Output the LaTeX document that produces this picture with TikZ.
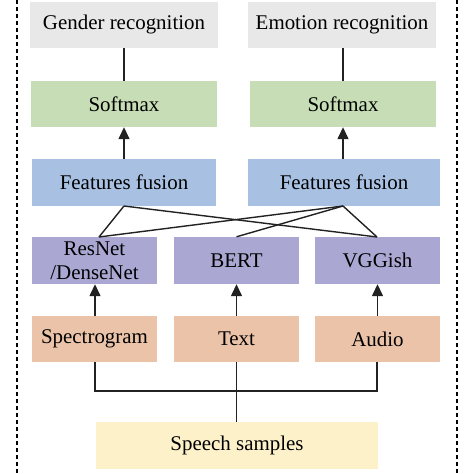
\documentclass[tikz,border=0pt]{standalone}
\usepackage{fontspec}
\setmainfont{Liberation Serif}
\usetikzlibrary{arrows.meta}
\definecolor{cgray}{HTML}{E8E8E8}
\definecolor{cgreen}{HTML}{C6DDB5}
\definecolor{cblue}{HTML}{A8C1E2}
\definecolor{cpurple}{HTML}{AAA8D2}
\definecolor{cpeach}{HTML}{EBC3A9}
\definecolor{cyellow}{HTML}{FCF1C9}
\definecolor{cline}{HTML}{222222}
\tikzset{
  boxst/.style={draw=none, inner sep=0pt, align=center, font=\fontsize{21}{22}\selectfont, text=black},
  conn/.style={draw=cline, line width=1.4bp},
  arr/.style={conn, -{Triangle[width=11bp,length=12bp]}},
  border/.style={draw=black, line width=1.1bp, dash pattern=on 4bp off 3bp}
}
\newcommand{\mybox}[7]{% name, x1,y1,x2,y2, color, text
  \node[boxst, fill=#6, minimum width={(#4-#2)*1bp}, minimum height={(#5-#3)*1bp}] (#1) at ({(#2+#4)/2},{(#3+#5)/2}) {#7};}
\begin{document}
\begin{tikzpicture}[x=1bp,y=-1bp]
\useasboundingbox (0,0) rectangle (474,474);
\fill[white] (0,0) rectangle (474,474);
\coordinate (bl1) at (17,0); \coordinate (bl2) at (17,474);
\coordinate (br1) at (457,0); \coordinate (br2) at (457,474);
\draw[border] (bl1) -- (bl2);
\draw[border] (br1) -- (br2);
\mybox{gen}{30}{2}{218}{48}{cgray}{Gender recognition}
\mybox{emo}{248}{2}{436}{48}{cgray}{Emotion recognition}
\mybox{sm1}{31}{81}{217}{127}{cgreen}{Softmax}
\mybox{sm2}{250}{81}{436}{127}{cgreen}{Softmax}
\mybox{ff1}{32}{159}{216}{206}{cblue}{Features fusion}
\mybox{ff2}{248}{159}{440}{206}{cblue}{Features fusion}
\mybox{res}{32}{237}{157}{284}{cpurple}{ResNet\\[2bp]/DenseNet}
\mybox{bert}{174}{237}{299}{284}{cpurple}{BERT}
\mybox{vgg}{315}{237}{440}{284}{cpurple}{VGGish}
\mybox{spec}{32}{316}{157}{362}{cpeach}{Spectrogram}
\mybox{txt}{174}{316}{299}{362}{cpeach}{Text}
\mybox{aud}{315}{316}{440}{362}{cpeach}{Audio}
\mybox{sp}{96}{422}{378}{469}{cyellow}{Speech samples}
% top links
\draw[conn] (gen.south) -- (sm1.north);
\draw[conn] (emo.south -| sm2.north) -- (sm2.north);
\draw[arr] (ff1.north -| sm1.south) -- (sm1.south);
\draw[arr] (ff2.north -| sm2.south) -- (sm2.south);
% crossing lines
\coordinate (r1) at (99,237);
\coordinate (v1) at (377,237);
\coordinate (f2) at (343,206);
\coordinate (f1) at (124,206);
\draw[conn] (f1) -- (r1);
\draw[conn] (f1) -- (v1);
\draw[conn] (f2) -- (r1);
\draw[conn] (f2) -- (bert.north);
\draw[conn] (f2) -- (v1);
% input arrows
\draw[arr] (spec.north -| 95,0) -- (res.south -| 95,0);
\draw[arr] (txt.north) -- (bert.south);
\draw[arr] (aud.north) -- (vgg.south);
% bottom tree
\coordinate (j1) at (95,391);
\coordinate (j2) at (377,391);
\draw[conn] (spec.south -| j1) -- (j1) -- (j2) -- (aud.south -| j2);
\draw[conn] (txt.south) -- (sp.north -| txt.south);
\end{tikzpicture}
\end{document}
